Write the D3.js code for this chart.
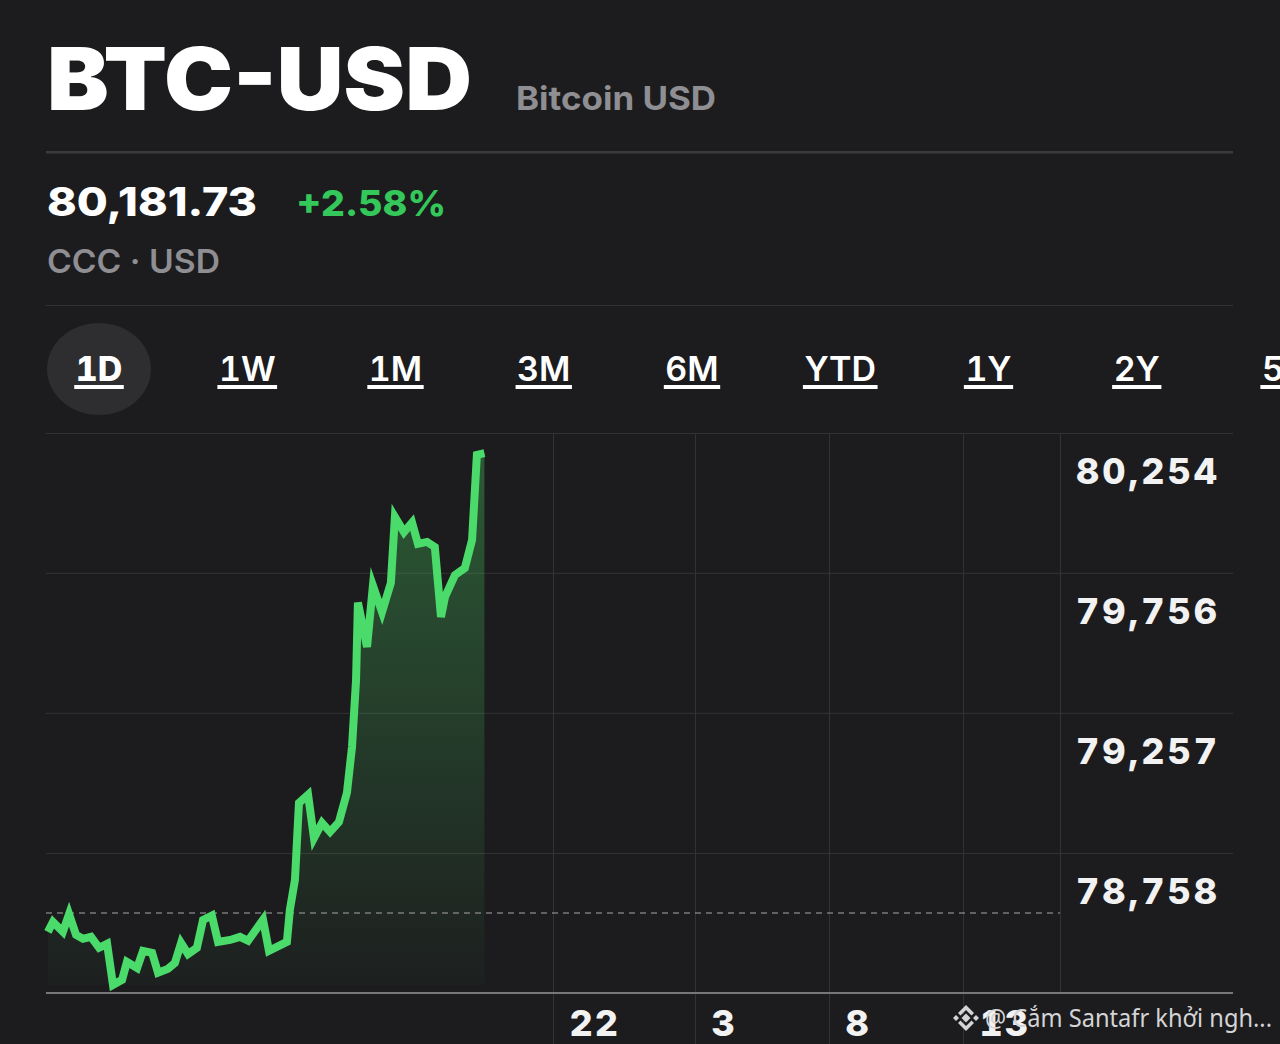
<!DOCTYPE html>
<html>
<head>
<meta charset="utf-8">
<script src="https://cdn.jsdelivr.net/npm/d3@7"></script>
<style>
  html, body { margin: 0; padding: 0; background: #1c1c1e; overflow: hidden; }
  svg { display: block; font-family: Inter, "Noto Sans", sans-serif; }
  .tnum { font-feature-settings: "tnum"; }
</style>
</head>
<body>
<div id="chart"></div>
<script>
// Hours since the left edge of the 1D chart
const hours = [0.07, 0.26, 0.63, 0.86, 1.12, 1.38, 1.68, 1.98, 2.28, 2.5, 2.84, 3.02, 3.4, 3.62, 3.96, 4.18, 4.55, 4.81, 5.04, 5.3, 5.63, 5.86, 6.19, 6.42, 6.87, 7.24, 7.54, 8.1, 8.32, 8.99, 9.1, 9.29, 9.44, 9.78, 10.0, 10.3, 10.6, 10.93, 11.23, 11.42, 11.57, 11.64, 11.98, 12.2, 12.54, 12.87, 13.02, 13.36, 13.66, 13.88, 14.22, 14.51, 14.74, 14.89, 15.26, 15.63, 15.9, 16.08, 16.36];
const prices = [78477, 78512, 78477, 78540, 78466, 78452, 78459, 78420, 78434, 78288, 78306, 78370, 78348, 78409, 78402, 78331, 78345, 78366, 78437, 78398, 78420, 78519, 78535, 78441, 78448, 78459, 78445, 78520, 78409, 78441, 78555, 78662, 78936, 78965, 78811, 78865, 78833, 78868, 78972, 79136, 79374, 79650, 79492, 79710, 79616, 79720, 79955, 79901, 79935, 79859, 79866, 79848, 79599, 79670, 79748, 79773, 79873, 80176, 80182];
const prevClose = 78544;

const priceTicks = [80254, 79756, 79257, 78758, 78259];
const hourTicks = [18.92, 24.22, 29.22, 34.22, 37.84];
const hourLabels = ["22", "3", "8", "13", ""];
const ranges = ["1D", "1W", "1M", "3M", "6M", "YTD", "1Y", "2Y", "5Y"];

const width = 1280, height = 1044;
const plotLeft = 46, plotRight = 1060, plotEdge = 1233, plotTop = 433, plotBottom = 993;

const svg = d3.select("#chart").append("svg").attr("width", width).attr("height", height);

const x = d3.scaleLinear().domain([0, 37.84]).range([plotLeft, plotRight]);
const y = d3.scaleLinear().domain([78259, 80254]).range([plotBottom, plotTop]);

// Header
function label(txt, px, py, size, weight, fill, len) {
  const t = svg.append("text").attr("x", px).attr("y", py).attr("font-size", size)
    .attr("font-weight", weight).attr("fill", fill).text(txt);
  if (len) t.attr("textLength", len).attr("lengthAdjust", "spacingAndGlyphs");
  return t;
}
label("BTC-USD", 47, 110, 87, 900, "#ffffff", 425);
label("Bitcoin USD", 516, 110, 33, 700, "#8e8e93", 200);
label("80,181.73", 47, 216, 40, 800, "#ffffff", 210);
label("+2.58%", 296, 216, 36, 800, "#34c759", 150);
label("CCC · USD", 47, 273, 33, 600, "#8e8e93", 173);

svg.append("rect").attr("x", plotLeft).attr("y", 151).attr("width", plotEdge - plotLeft).attr("height", 2.5).attr("fill", "#3a3a3c");
svg.append("rect").attr("x", plotLeft).attr("y", 305).attr("width", plotEdge - plotLeft).attr("height", 1).attr("fill", "#333335");

// Range selector
const tab = d3.scalePoint().domain(ranges).range([99, 1285]);
svg.append("ellipse").attr("cx", tab("1D")).attr("cy", 369).attr("rx", 52).attr("ry", 46).attr("fill", "#2e2e31");
const tabs = svg.selectAll(".tab").data(ranges).join("g").attr("class", "tab")
  .attr("transform", d => `translate(${tab(d)},0)`);
tabs.append("text").attr("class", "tnum").attr("y", 381).attr("text-anchor", "middle").attr("font-size", 34)
  .attr("font-weight", d => d === "1D" ? 800 : 600).attr("fill", "#ffffff").text(d => d);
tabs.each(function () {
  const w = this.querySelector("text").getComputedTextLength() + 3;
  d3.select(this).append("rect").attr("x", -w / 2).attr("y", 385).attr("width", w).attr("height", 4).attr("fill", "#ffffff");
});

// Price gridlines and labels
const yAxis = svg.append("g").attr("transform", `translate(${plotLeft},0)`)
  .call(d3.axisRight(y).tickValues(priceTicks).tickSize(plotEdge - plotLeft)
    .tickFormat(d => d === 78259 ? "" : d3.format(",")(d)));
yAxis.select(".domain").remove();
yAxis.selectAll("line").attr("stroke", "#333335").attr("stroke-width", 1);
yAxis.selectAll("text").attr("class", "tnum").attr("x", 1030).attr("dy", 50.5).attr("font-family", "Inter")
  .attr("font-size", 36).attr("font-weight", 800).attr("fill", "#f2f2f2")
  .attr("textLength", 141).attr("lengthAdjust", "spacing");

// Hour gridlines and labels
const xAxis = svg.append("g").attr("transform", `translate(0,${plotTop})`)
  .call(d3.axisBottom(x).tickValues(hourTicks).tickSize(height - plotTop)
    .tickFormat((d, i) => hourLabels[i]));
xAxis.select(".domain").remove();
xAxis.selectAll("line").attr("stroke", "#333335").attr("stroke-width", 1)
  .attr("y2", d => d === 37.84 ? plotBottom - plotTop : height - plotTop);
xAxis.selectAll("text").attr("class", "tnum").attr("x", 16).attr("y", 603).attr("dy", 0).attr("text-anchor", "start")
  .attr("font-family", "Inter").attr("font-size", 36).attr("font-weight", 800).attr("fill", "#f2f2f2")
  .attr("letter-spacing", 2);

svg.append("line").attr("x1", plotLeft).attr("x2", plotEdge).attr("y1", plotBottom).attr("y2", plotBottom)
  .attr("stroke", "#77777a").attr("stroke-width", 2);

// Price area and line
const points = hours.map((h, i) => ({ h, p: prices[i] }));

const grad = svg.append("defs").append("linearGradient").attr("id", "fade")
  .attr("gradientUnits", "userSpaceOnUse").attr("x1", 0).attr("x2", 0).attr("y1", plotTop).attr("y2", plotBottom - 8);
grad.append("stop").attr("offset", 0).attr("stop-color", "#4cd964").attr("stop-opacity", 0.34);
grad.append("stop").attr("offset", 1).attr("stop-color", "#4cd964").attr("stop-opacity", 0.02);

svg.append("path").datum(points).attr("fill", "url(#fade)")
  .attr("d", d3.area().x(d => x(d.h)).y0(plotBottom - 8).y1(d => y(d.p)));

svg.append("line").attr("x1", plotLeft).attr("x2", plotRight).attr("y1", y(prevClose)).attr("y2", y(prevClose))
  .attr("stroke", "#a5a5a8").attr("stroke-width", 1.2).attr("stroke-dasharray", "6 5");

svg.append("path").datum(points).attr("fill", "none").attr("stroke", "#4bdb6a").attr("stroke-width", 8)
  .attr("stroke-linejoin", "miter").attr("stroke-miterlimit", 5)
  .attr("d", d3.line().x(d => x(d.h)).y(d => y(d.p)));

// Watermark
const mark = svg.append("g").attr("transform", "translate(966,1018)").attr("fill", "#d4d4d6");
[[0, 0, 4.5], [-10, 0, 3], [10, 0, 3]].forEach(([cx, cy, r]) => {
  mark.append("path").attr("d", `M${cx} ${cy - r}L${cx + r} ${cy}L${cx} ${cy + r}L${cx - r} ${cy}Z`);
});
mark.append("path").attr("d", "M0 -13L8 -5L5.5 -2.5L0 -8L-5.5 -2.5L-8 -5Z");
mark.append("path").attr("d", "M0 13L8 5L5.5 2.5L0 8L-5.5 2.5L-8 5Z");
svg.append("text").attr("x", 985).attr("y", 1027).attr("font-family", "Noto Sans").attr("font-size", 25)
  .attr("fill", "#d4d4d6").attr("textLength", 287).attr("lengthAdjust", "spacingAndGlyphs")
  .text("@ Cắm Santafr khởi ngh...");
</script>
</body>
</html>
